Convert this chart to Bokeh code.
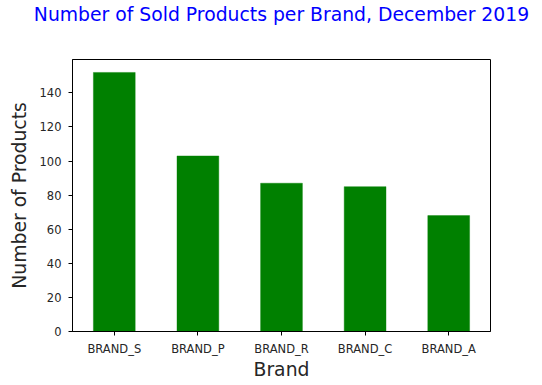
from bokeh.plotting import figure
from bokeh.models import Range1d, FixedTicker, Title
from bokeh.embed import file_html
from bokeh.resources import INLINE

brands = ["BRAND_S", "BRAND_P", "BRAND_R", "BRAND_C", "BRAND_A"]
counts = [152, 103, 87, 85, 68]
y_ticks = [0, 20, 40, 60, 80, 100, 120, 140]
title_text = "Number of Sold Products per Brand, December 2019"

FONT = "DejaVu Sans"

p = figure(x_range=brands, y_range=Range1d(0, max(counts) * 1.05),
           width=542, height=385, output_backend="svg", toolbar_location=None,
           min_border_left=72, min_border_right=52, min_border_top=59, min_border_bottom=54,
           title=title_text)
p.vbar(x=brands, top=counts, width=0.5, fill_color="#008000", line_color="#008000", line_alpha=0.4)

p.title.align = "center"
p.title.text_font = FONT
p.title.text_font_size = "18.8px"
p.title.text_font_style = "normal"
p.title.text_color = "blue"
p.title.standoff = 0

# empty spacer panel between the title and the frame
p.add_layout(Title(text=" ", text_font_size="10px", standoff=22), "above")

p.grid.visible = False
p.outline_line_color = "black"
p.outline_line_width = 1
p.background_fill_color = "white"
p.border_fill_color = "white"

for ax in (p.xaxis[0], p.yaxis[0]):
    ax.axis_line_color = "black"
    ax.major_tick_line_color = "black"
    ax.major_tick_out = 4
    ax.major_tick_in = 0
    ax.minor_tick_line_color = None
    ax.major_label_text_font = FONT
    ax.major_label_text_font_size = "11.5px"
    ax.major_label_text_color = "#262626"
    ax.axis_label_text_font = FONT
    ax.axis_label_text_font_size = "18.8px"
    ax.axis_label_text_font_style = "normal"
    ax.axis_label_text_color = "#262626"

p.yaxis[0].ticker = FixedTicker(ticks=y_ticks)
p.xaxis[0].axis_label = "Brand"
p.yaxis[0].axis_label = "Number of Products"
p.xaxis[0].axis_label_standoff = 0
p.yaxis[0].axis_label_standoff = 7
p.xaxis[0].major_label_standoff = 6
p.yaxis[0].major_label_standoff = 7

open("out.html", "w").write(file_html(p, INLINE))
